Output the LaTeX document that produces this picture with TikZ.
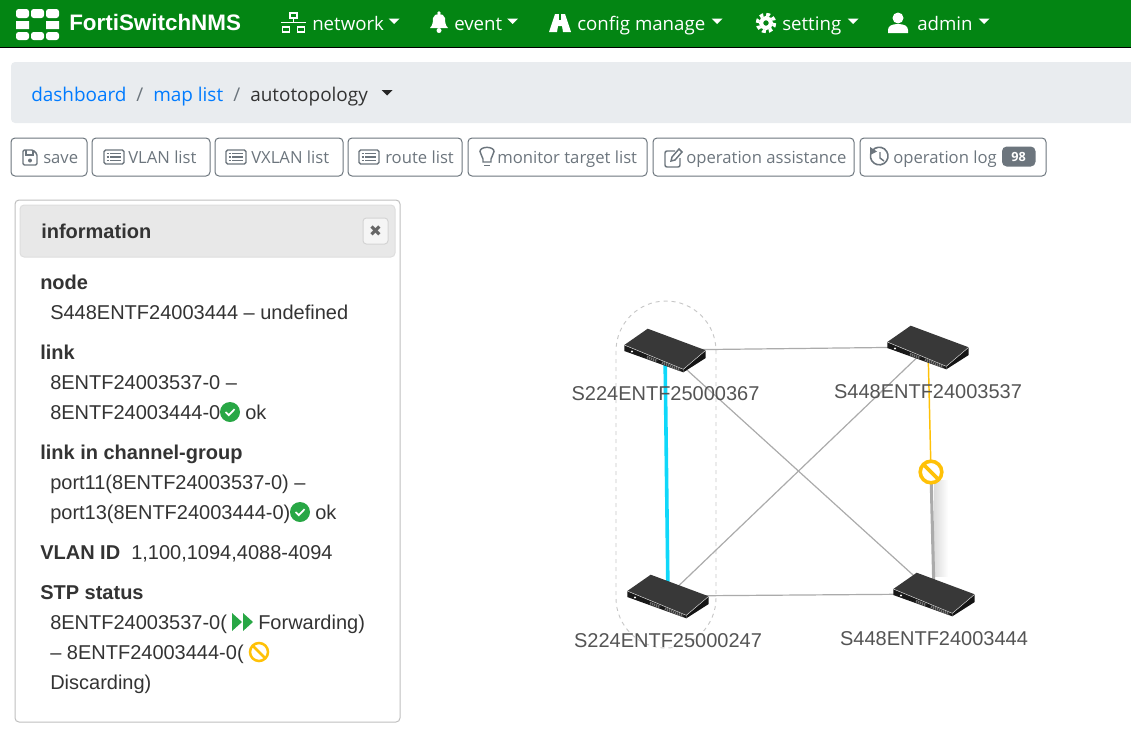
\documentclass[tikz,border=0pt]{standalone}
\usepackage{fontspec}
\setmainfont{Liberation Sans}
\newfontfamily\uifont{Open Sans}
\newfontfamily\symfont{DejaVu Sans}
\definecolor{navgreen}{HTML}{038513}
\definecolor{crumbbg}{HTML}{E9ECEF}
\definecolor{linkblue}{HTML}{007BFF}
\definecolor{btngray}{HTML}{6C757D}
\definecolor{okgreen}{HTML}{28A745}
\definecolor{banyellow}{HTML}{FFC107}
\definecolor{linkgray}{HTML}{ABABAB}
\definecolor{trunkcyan}{HTML}{0FD8FA}
\definecolor{panelink}{HTML}{333333}
\tikzset{
    navtext/.style={anchor=base west, inner sep=0pt, text=white, font=\uifont\fontsize{14}{16}\selectfont},
    crumb/.style={anchor=base west, inner sep=0pt, font=\uifont\fontsize{14.2}{16}\selectfont},
    btntext/.style={anchor=base west, inner sep=0pt, text=btngray, font=\uifont\fontsize{12.5}{16}\selectfont},
    toolbtn/.style={draw=btngray, line width=0.75pt, rounded corners=3pt},
    panelhead/.style={anchor=base west, inner sep=0pt, text=panelink, font=\fontsize{15}{18}\selectfont\bfseries},
    paneltext/.style={anchor=base west, inner sep=0pt, text=panelink, font=\fontsize{15}{18}\selectfont},
    swlabel/.style={inner sep=0pt, text=black!67, font=\fontsize{15}{18}\selectfont},
    swnode/.style={inner sep=0pt, minimum size=0pt},
    plainlink/.style={draw=linkgray, line width=0.9pt},
    caret/.pic={\fill[pic actions] (-5.5,-3) -- (5.5,-3) -- (0,2.5) -- cycle;},
    switchicon/.pic={
        \fill[black!78] (-40.7,-5) -- (-17.3,-21.3) -- (40.7,0.3) -- (18.3,19.3) -- cycle;
        \fill[black!90] (-40.7,-5) -- (18.3,19.3) -- (18.3,22.3) -- (-40.7,1) -- cycle;
        \fill[black!92] (18.3,19.3) -- (40.7,0.3) -- (40.7,8) -- (18.3,22.3) -- cycle;
        \draw[white!85!black, line width=0.35pt] (-40.7,-5) -- (18.3,19.3) -- (40.7,0.3);
        \draw[black!55, line width=2pt, dash pattern=on 1pt off 0.6pt] (-18,7) -- (-8,11) (-3,12.5) -- (15,20);
        \fill[white] (-33,1.5) circle (1.2);
    },
    okmark/.pic={
        \fill[okgreen] (0,0) circle (10);
        \draw[white, line width=1.3pt] (-4.5,0) -- (-1.2,3.2) -- (4.5,-2.8);
    },
    banmark/.pic={
        \draw[banyellow, fill=white, line width=1.9pt] (0,0) circle (9);
        \draw[banyellow, line width=1.9pt] (-6.4,-6.4) -- (6.4,6.4);
    },
    bigban/.pic={
        \draw[banyellow, fill=white, line width=2.7pt] (0,0) circle (10.8);
        \draw[banyellow, line width=2.7pt] (-7.6,-7.6) -- (7.6,7.6);
    },
    listicon/.pic={
        \draw[btngray, line width=1.1pt, rounded corners=1.2pt] (-10,-7) rectangle (10,7);
        \draw[btngray, line width=1pt] (-4,-3.5) -- (7,-3.5) (-4,0) -- (7,0) (-4,3.5) -- (7,3.5);
        \draw[btngray, line width=1pt] (-7.5,-3.5) -- (-5.5,-3.5) (-7.5,0) -- (-5.5,0) (-7.5,3.5) -- (-5.5,3.5);
    },
}
\begin{document}
\begin{tikzpicture}[x=0.75pt, y=-0.75pt]
    \useasboundingbox (0,0) rectangle (1131,754);

    % top bar
    \fill[navgreen] (0,0) rectangle (1131,47);
    \fill[black] (0,47) rectangle (1131,48);

    % logo
    \fill[white, rounded corners=2pt] (16,9) rectangle (29,18) (31,9) rectangle (44,18) (46,9) rectangle (59,18);
    \fill[white] (16,21) rectangle (29,29) (46,21) rectangle (59,29);
    \fill[white, rounded corners=2pt] (16,32) rectangle (29,40) (31,32) rectangle (44,40) (46,32) rectangle (59,40);
    \node[anchor=base west, inner sep=0pt, text=white, font=\fontsize{16.8}{20}\selectfont\bfseries] (brand) at (69,30) {FortiSwitchNMS};

    % network
    \draw[white, line width=1.4pt] (290,13) rectangle (297,18) (282.5,27) rectangle (289.5,32) (297.5,27) rectangle (304.5,32);
    \draw[white, line width=1.4pt] (293.5,18) -- (293.5,22.5) (281,22.5) -- (306,22.5);
    \node[navtext] (navnetwork) at (312,30) {network};
    \pic[white] at (394,21.5) {caret};

    % event
    \fill[white] (430,28) .. controls (433,25) and (433,21) .. (433,18) .. controls (434,15) and (436,14) .. (439,14) .. controls (442,14) and (444,15) .. (445,18) .. controls (445,21) and (445,25) .. (448,28) -- cycle;
    \fill[white] (439,30.5) circle (2.5) (439,13) circle (1.8);
    \node[navtext] (navevent) at (454,30) {event};
    \pic[white] at (512.5,21.5) {caret};

    % config manage
    \fill[white] (549,32) -- (555,14) -- (565,14) -- (571,32) -- (563,32) -- (562,26) -- (558,26) -- (557,32) -- cycle;
    \fill[navgreen] (558.7,14) rectangle (561.3,20);
    \node[navtext] (navconfig) at (577,30) {config manage};
    \pic[white] at (717,21.5) {caret};

    % setting
    \draw[white, line width=2.6pt, dash pattern=on 2.8pt off 2.2pt] (766,23) circle (8.5);
    \draw[white, line width=3pt] (766,23) circle (5);
    \node[navtext] (navsetting) at (782,30) {setting};
    \pic[white] at (853,21.5) {caret};

    % admin
    \fill[white] (898,18) circle (5.5);
    \fill[white] (888,33) -- (888,30) .. controls (888,26) and (892,24) .. (898,24) .. controls (904,24) and (908,26) .. (908,30) -- (908,33) -- cycle;
    \node[navtext] (navadmin) at (917,30) {admin};
    \pic[white] at (984,21.5) {caret};

    % breadcrumb
    \fill[crumbbg, rounded corners=3pt] (11,62) rectangle (1140,123);
    \node[crumb, text=linkblue] (crumbdash) at (31,101) {dashboard};
    \node[crumb, text=btngray] (crumbsepa) at (136,101) {/};
    \node[crumb, text=linkblue] (crumbmap) at (153,101) {map list};
    \node[crumb, text=btngray] (crumbsepb) at (233,101) {/};
    \node[crumb, text=black!80] (crumbauto) at (250,101) {autotopology};
    \pic[black!85] at (387,93) {caret};

    % buttons
    \draw[toolbtn] (11,138) rectangle (87,176);
    \draw[btngray, line width=1.1pt, rounded corners=1pt] (23,150) -- (33,150) -- (37,154) -- (37,165) -- (23,165) -- cycle;
    \draw[btngray, line width=1pt] (26,150) -- (26,155) -- (33,155) -- (33,150);
    \fill[btngray] (30,160.5) circle (2);
    \node[btntext] (btnsave) at (43,163) {save};

    \draw[toolbtn] (92,138) rectangle (210,176);
    \pic at (114,157) {listicon};
    \node[btntext] (btnvlan) at (128,163) {VLAN list};

    \draw[toolbtn] (215,138) rectangle (343,176);
    \pic at (236,157) {listicon};
    \node[btntext] (btnvxlan) at (251,163) {VXLAN list};

    \draw[toolbtn] (348,138) rectangle (462,176);
    \pic at (369,157) {listicon};
    \node[btntext] (btnroute) at (385,163) {route list};

    \draw[toolbtn] (468,138) rectangle (647,176);
    \draw[btngray, line width=1.1pt] (483,162) -- (483,159) .. controls (483,156) and (480,155) .. (480,151.5) .. controls (480,146) and (494,146) .. (494,151.5) .. controls (494,155) and (491,156) .. (491,159) -- (491,162) -- cycle;
    \draw[btngray, line width=1.1pt] (484,165.5) -- (490,165.5);
    \node[btntext] (btnmonitor) at (497,163) {monitor target list};

    \draw[toolbtn] (653,138) rectangle (854,176);
    \draw[btngray, line width=1.1pt, rounded corners=1.5pt] (675,151) -- (665,151) -- (665,167) -- (680,167) -- (680,158);
    \draw[btngray, line width=1.1pt] (671,161) -- (672,157) -- (679,149) -- (682,152) -- (675,160) -- cycle;
    \node[btntext] (btnassist) at (686,163) {operation assistance};

    \draw[toolbtn] (860,138) rectangle (1046,176);
    \draw[btngray, line width=1.2pt] (872,151) arc (215:-140:8.8);
    \fill[btngray] (870,147) -- (877,151.5) -- (870,155) -- cycle;
    \draw[btngray, line width=1.1pt] (880,152) -- (880,158) -- (884,161);
    \node[btntext] (btnlog) at (893,163) {operation log};
    \fill[btngray, rounded corners=3.5pt] (1002,146.5) rectangle (1035.5,166.5);
    \node[inner sep=0pt, text=white, font=\uifont\fontsize{9.5}{11}\selectfont\bfseries] (logcount) at (1018.7,156.5) {98};

    % information panel
    \draw[black!25, line width=0.75pt, rounded corners=3pt] (15,200) rectangle (400,722);
    \draw[black!13, fill=black!9, line width=0.75pt, rounded corners=3pt] (20,205) rectangle (395,257);
    \draw[black!17, fill=black!4, line width=0.75pt, rounded corners=2.5pt] (363,218) rectangle (388,244);
    \node[inner sep=0pt, text=black!60, font=\symfont\fontsize{11.5}{14}\selectfont] (panelclose) at (375.5,231) {✖};
    \node[panelhead] (infotitle) at (41,238) {information};

    \node[panelhead] (hnode) at (40,289) {node};
    \node[paneltext] (tnode) at (50,319) {S448ENTF24003444 -- undefined};

    \node[panelhead] (hlink) at (40,359) {link};
    \node[paneltext] (tlinka) at (50,389) {8ENTF24003537-0 --};
    \node[paneltext] (tlinkb) at (50,419) {8ENTF24003444-0};
    \pic at (230,412) {okmark};
    \node[paneltext] (tlinkok) at (245,419) {ok};

    \node[panelhead] (hgroup) at (40,459) {link in channel-group};
    \node[paneltext] (tgroupa) at (50,489) {port11(8ENTF24003537-0) --};
    \node[paneltext] (tgroupb) at (50,519) {port13(8ENTF24003444-0)};
    \pic at (300,512) {okmark};
    \node[paneltext] (tgroupok) at (315,519) {ok};

    \node[panelhead] (hvlan) at (40,559) {VLAN ID};
    \node[paneltext] (tvlan) at (131,559) {1,100,1094,4088-4094};

    \node[panelhead] (hstp) at (40,599) {STP status};
    \node[paneltext] (tstpa) at (50,629) {8ENTF24003537-0(};
    \fill[okgreen] (232,613) -- (242,622) -- (232,631) -- cycle (243,613) -- (253,622) -- (243,631) -- cycle;
    \node[paneltext] (tstpfwd) at (258,629) {Forwarding)};
    \node[paneltext] (tstpb) at (50,659) {-- 8ENTF24003444-0(};
    \pic at (259,652) {banmark};
    \node[paneltext] (tstpc) at (50,689) {Discarding)};

    % channel group outline
    \draw[black!22, line width=0.7pt, dashed, rounded corners=37.5pt] (616,301) rectangle (716,648);

    % switches
    \node[swnode] (swa) at (665,350) {};
    \node[swnode] (swb) at (928,347) {};
    \node[swnode] (swc) at (668,596) {};
    \node[swnode] (swd) at (934,594) {};
    \node[swnode] (blocked) at (931,472) {};

    % links
    \shade[left color=black!14, right color=white, draw=none] (934,480) rectangle (948,576);
    \draw[plainlink] (swa) -- (swb);
    \draw[plainlink] (swa) -- (swd);
    \draw[plainlink] (swc) -- (swb);
    \draw[plainlink] (swc) -- (swd);
    \draw[draw=trunkcyan, line width=2.7pt] (swa) -- (swc);
    \draw[draw=banyellow, line width=1.1pt] (swb) -- (blocked);
    \draw[draw=linkgray, line width=2.3pt] (blocked) -- (swd);
    \pic at (blocked) {bigban};

    \pic at (swa) {switchicon};
    \pic at (swb) {switchicon};
    \pic at (swc) {switchicon};
    \pic at (swd) {switchicon};

    \node[swlabel] (lba) at (665.5,394) {S224ENTF25000367};
    \node[swlabel] (lbb) at (928,392) {S448ENTF24003537};
    \node[swlabel] (lbc) at (668,641) {S224ENTF25000247};
    \node[swlabel] (lbd) at (934,639) {S448ENTF24003444};
\end{tikzpicture}
\end{document}
